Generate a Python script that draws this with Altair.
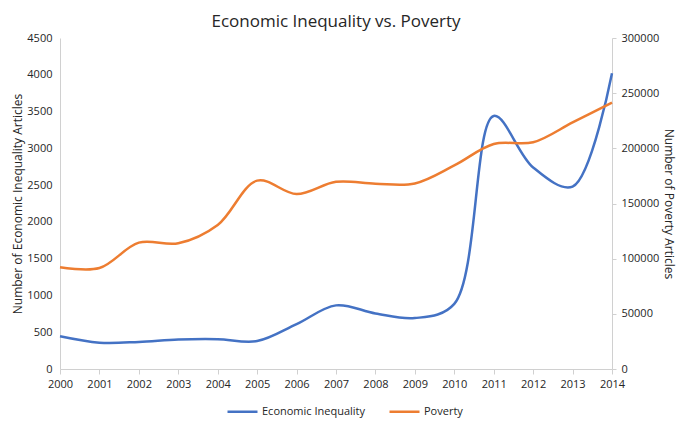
import altair as alt
import pandas as pd

years = list(range(2000, 2015))
inequality = [445, 358, 368, 400, 405, 380, 610, 865, 755, 692, 885, 3440, 2740, 2480, 4020]
poverty = [92200, 91500, 114500, 113900, 130500, 170700, 158600, 169700, 168000, 168200, 184500, 203900, 205500, 223500, 241500]
series_names = ["Economic Inequality", "Poverty"]
series_colors = ["#4472C4", "#ED7D31"]
left_ticks = list(range(0, 4501, 500))
right_ticks = list(range(0, 300001, 50000))

df_ineq = pd.DataFrame({"year": years, "value": inequality, "series": series_names[0]})
df_pov = pd.DataFrame({"year": years, "value": poverty, "series": series_names[1]})

FONT = "Open Sans"
TXT = "#262626"
AXC = "#D0D0D0"

color = alt.Color(
    "series:N",
    scale=alt.Scale(domain=series_names, range=series_colors),
    legend=alt.Legend(
        title=None, orient="none", legendX=166, legendY=357, direction="horizontal",
        symbolType="stroke", symbolSize=900, symbolStrokeWidth=2.5,
        labelFont=FONT, labelFontSize=11, labelColor=TXT,
        columnPadding=18, labelOffset=3,
    ),
)

x = alt.X(
    "year:Q",
    scale=alt.Scale(domain=[2000, 2014], nice=False, zero=False),
    axis=alt.Axis(
        title=None, values=years, format="d", grid=False,
        labelFlush=False, labelOverlap=False,
        domainColor=AXC, tickColor=AXC, tickSize=5,
        labelFont=FONT, labelFontSize=11, labelColor=TXT, labelPadding=4,
    ),
)

left = alt.Chart(df_ineq).mark_line(interpolate="catmull-rom", strokeWidth=2.5).encode(
    x=x,
    y=alt.Y(
        "value:Q",
        scale=alt.Scale(domain=[0, 4500], nice=False),
        axis=alt.Axis(
            title="Number of Economic Inequality Articles", values=left_ticks, format="d", grid=False,
            domainColor=AXC, ticks=False, labelPadding=8,
            labelFont=FONT, labelFontSize=11, labelColor=TXT,
            titleFont=FONT, titleFontSize=12, titleFontWeight="normal", titleColor=TXT,
            titlePadding=2,
        ),
    ),
    color=color,
)

right = alt.Chart(df_pov).mark_line(interpolate="catmull-rom", strokeWidth=2.5).encode(
    x=x,
    y=alt.Y(
        "value:Q",
        scale=alt.Scale(domain=[0, 300000], nice=False),
        axis=alt.Axis(
            title="Number of Poverty Articles", orient="right", values=right_ticks, format="d", grid=False,
            domainColor=AXC, tickColor=AXC, tickSize=4, labelPadding=5,
            labelFont=FONT, labelFontSize=11, labelColor=TXT,
            titleFont=FONT, titleFontSize=12, titleFontWeight="normal", titleColor=TXT,
            titlePadding=3,
        ),
    ),
    color=color,
)

chart = alt.layer(left, right).resolve_scale(y="independent").properties(
    width=552, height=331,
    padding={"left": 3, "top": 5, "right": 2, "bottom": 1},
    title=alt.TitleParams(
        "Economic Inequality vs. Poverty", font=FONT, fontSize=17,
        fontWeight="normal", color=TXT, anchor="middle", offset=1,
    ),
).configure_view(stroke=None)

chart.save("out.html", embed_options={"renderer": "svg", "actions": False})
